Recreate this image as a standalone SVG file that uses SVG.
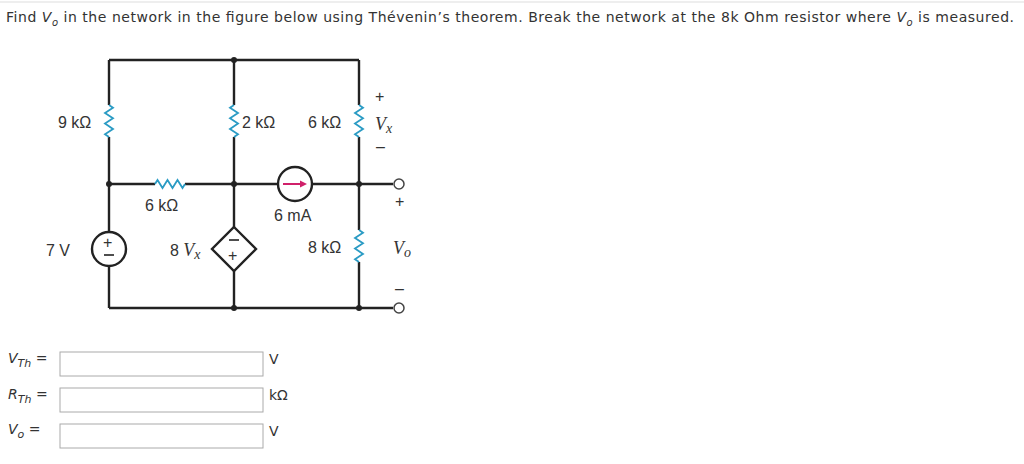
<svg xmlns="http://www.w3.org/2000/svg" width="1024" height="464" viewBox="0 0 1024 464">
<style>
.w{stroke:#222;stroke-width:2.4;fill:none}
.r{stroke:#2a9bc4;stroke-width:1.8;fill:none}
.t{font-family:"DejaVu Sans",Verdana,sans-serif;font-size:14px;fill:#333}
.c{font-family:"Liberation Sans",Arial,sans-serif;font-size:16px;fill:#333}
.v{font-family:"Liberation Serif","Times New Roman",serif;font-style:italic;font-size:18px;fill:#333}
.box{fill:#fff;stroke:#aaa;stroke-width:1}
.dot{fill:#222}
</style>
<rect width="1024" height="464" fill="#fff"/>
<text class="t" x="6" y="22" textLength="1008" lengthAdjust="spacing">Find <tspan font-style="italic">V</tspan><tspan font-style="italic" font-size="10" dy="4">o</tspan><tspan dy="-4"> in the network in the figure below using Thévenin’s theorem. Break the network at the 8k Ohm resistor where </tspan><tspan font-style="italic">V</tspan><tspan font-style="italic" font-size="10" dy="4">o</tspan><tspan dy="-4"> is measured.</tspan></text>
<line x1="0" y1="2" x2="1024" y2="2" stroke="#ddd"/>
<g id="connectors">
<path class="w" d="M109,60 H359 M109,60 V105 M109,137 V232 M109,266 V308 M234,60 V105 M234,137 V227 M234,271 V308 M359,60 V105 M359,137 V230 M359,262 V308 M109,308 H393 M109,184 H155 M185,184 H278 M312,184 H393"/>
<circle class="dot" cx="234" cy="60" r="3"/><circle class="dot" cx="109" cy="184" r="3"/><circle class="dot" cx="234" cy="184" r="3"/><circle class="dot" cx="359" cy="184" r="3"/><circle class="dot" cx="234" cy="308" r="3"/><circle class="dot" cx="359" cy="308" r="3"/>
</g>
<g id="r9k"><path class="r" d="M109,105 l4,2.7 -8,5.3 8,5.3 -8,5.3 8,5.3 -8,5.3 4,2.8"/><text class="c" x="58" y="128">9 kΩ</text></g>
<g id="r2k"><path class="r" d="M234,105 l-4,2.7 8,5.3 -8,5.3 8,5.3 -8,5.3 8,5.3 -4,2.8"/><text class="c" x="242" y="128">2 kΩ</text></g>
<g id="r6kv"><path class="r" d="M359,105 l4,2.7 -8,5.3 8,5.3 -8,5.3 8,5.3 -8,5.3 4,2.8"/><text class="c" x="308" y="128">6 kΩ</text>
<text class="c" x="375" y="102" font-size="13">+</text><text class="v" x="375" y="130">V<tspan font-size="14" dy="3">x</tspan></text><text class="c" x="376" y="152">–</text></g>
<g id="r6kh"><path class="r" d="M155,184 l2.5,-4 5,8 5,-8 5,8 5,-8 5,8 2.5,-4"/><text class="c" x="145" y="211">6 kΩ</text></g>
<g id="r8k"><path class="r" d="M359,230 l4,2.7 -8,5.3 8,5.3 -8,5.3 8,5.3 -8,5.3 4,2.8"/><text class="c" x="308" y="253">8 kΩ</text></g>
<g id="is"><circle class="w" cx="295" cy="184" r="17" stroke-width="2"/><path d="M283,184 H302" stroke="#d0206a" stroke-width="2"/><path d="M307,184 l-7,-3.5 v7z" fill="#d0206a"/><text class="c" x="274" y="221">6 mA</text></g>
<g id="vs"><circle class="w" cx="109" cy="249" r="17" stroke-width="2"/><text class="c" x="103" y="248" font-size="15">+</text><line x1="104" y1="255" x2="114" y2="255" stroke="#222" stroke-width="1.6"/><text class="c" x="46" y="256">7 V</text></g>
<g id="dep"><path class="w" stroke-width="2" d="M234,227 L256,249 234,271 212,249Z"/><line x1="229" y1="240" x2="239" y2="240" stroke="#222" stroke-width="1.6"/><text class="c" x="228" y="261" font-size="15">+</text><text class="c" x="170" y="256">8 <tspan class="v">V<tspan font-size="14" dy="3">x</tspan></tspan></text></g>
<g id="terminals"><circle cx="399" cy="184" r="5" fill="#fff" stroke="#444" stroke-width="1.5"/><circle cx="399" cy="308" r="5" fill="#fff" stroke="#444" stroke-width="1.5"/>
<text class="c" x="395" y="207" font-size="13">+</text><text class="v" x="393" y="254">V<tspan font-size="14" dy="3">o</tspan></text><text class="c" x="395" y="294">–</text></g>
<g id="form">
<text class="t" x="8" y="363"><tspan font-style="italic">V</tspan><tspan font-style="italic" font-size="11" dy="4">Th</tspan><tspan dy="-4"> =</tspan></text>
<rect class="box" x="60" y="352" width="203" height="24"/><text class="t" x="269" y="364">V</text>
<text class="t" x="8" y="399"><tspan font-style="italic">R</tspan><tspan font-style="italic" font-size="11" dy="4">Th</tspan><tspan dy="-4"> =</tspan></text>
<rect class="box" x="60" y="388" width="203" height="24"/><text class="t" x="269" y="400">kΩ</text>
<text class="t" x="8" y="434"><tspan font-style="italic">V</tspan><tspan font-style="italic" font-size="11" dy="4">o</tspan><tspan dy="-4"> =</tspan></text>
<rect class="box" x="60" y="424" width="203" height="24"/><text class="t" x="269" y="436">V</text>
</g>
</svg>
